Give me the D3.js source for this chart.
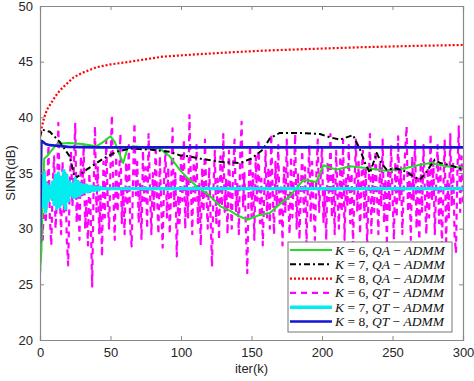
<!DOCTYPE html>
<html><head><meta charset="utf-8">
<script src="https://cdn.jsdelivr.net/npm/d3@7"></script>
<style>body{margin:0;background:#fff}svg{display:block}</style>
</head><body>
<svg id="c" width="474" height="381"></svg>
<script>
// ---- data ----
const xTicks = [0,50,100,150,200,250,300];
const yTicks = [20,25,30,35,40,45,50];
const legendLabels = [
  {K:"6", m:"QA"},{K:"7", m:"QA"},{K:"8", m:"QA"},
  {K:"6", m:"QT"},{K:"7", m:"QT"},{K:"8", m:"QT"}];

// K=6 QA-ADMM (green) [iter, SINR]
const greenQA6 = [[0,26],[1,28],[2,33],[3,36.3],[5,36.5],[8,37],[12,37.6],[20,37.7],[30,37.6],[40,37.4],[45,37.8],[50,38.3],[53,37.8],[57,36.5],[59,35.9],[62,37.2],[66,37.4],[75,37.3],[85,37.2],[92,36.5],[99,35.3],[105,34.5],[112,33.7],[120,33],[128,32],[135,31.6],[140,31.2],[147,30.8],[155,31.2],[163,31.4],[170,32.2],[177,32.9],[187,34.4],[196,34.2],[201,35.7],[210,35.3],[220,35.6],[234,35.4],[245,35.2],[258,35.4],[268,35.7],[277,35.9],[288,35.6],[298,35.5],[300,35.5]];
// K=7 QA-ADMM (black dash-dot)
const blackQA7 = [[0,38.2],[1.4,38.9],[7,38.7],[14,37.8],[21,36.5],[24.8,34.5],[29,34.9],[33,35.3],[39,35.8],[45,36.3],[54,36.9],[64,37.2],[78,37.1],[92,36.9],[99,36.6],[106,36.5],[113,36.3],[128,36.0],[142,35.9],[150,36.3],[158,37.1],[163,38.1],[170,38.6],[184,38.6],[198.6,38.5],[205.7,38.2],[212.8,38.0],[222,38.4],[227,37.1],[230.5,35.9],[234,35.0],[238.8,36.8],[242,35.9],[245.8,35.3],[253,35.4],[260,35.1],[264.6,34.7],[269.5,34.4],[274,35.1],[280,36.2],[283.7,35.9],[290.8,35.7],[298,35.4],[300,35.5]];
// K=8 QA-ADMM (red dotted)
const redQA8 = [[0,38.3],[1,39],[3,40],[5,40.7],[8,41.3],[11,41.9],[14,42.4],[18,42.9],[24,43.6],[30,44.0],[40,44.5],[50,44.75],[64,45.0],[87,45.45],[110,45.65],[135,45.84],[160,46.0],[182,46.1],[205,46.2],[229,46.3],[260,46.4],[300,46.5]];
// K=6 QT-ADMM (magenta dashed), one value per iteration 0..300
const magentaQT6 = [
26.0,31.5,29.0,35.5,30.5,33.0,37.5,31.0,28.5,34.0,36.5,30.0,32.5,39.5,33.0,29.5,36.0,31.5,35.0,29.0,
26.7,33.5,37.0,32.0,35.5,39.5,30.5,34.5,29.0,36.5,33.0,37.5,30.0,32.5,28.5,35.0,31.0,24.8,33.5,39.2,
31.5,35.5,29.5,33.0,27.5,36.0,31.0,38.0,32.5,30.0,35.5,40.2,33.5,29.0,36.5,31.5,34.0,38.5,30.5,33.5,
29.5,36.0,32.0,37.5,30.0,28.4,34.5,39.5,33.0,36.0,30.5,34.0,29.0,37.0,32.5,35.5,30.0,38.5,33.5,29.5,
35.0,31.5,37.5,33.0,29.5,36.5,32.0,28.3,34.5,37.0,31.0,35.5,29.5,33.5,39.0,32.0,35.0,27.5,33.0,30.5,
36.5,32.5,38.0,30.0,34.5,31.0,40.2,34.0,29.5,36.0,32.5,37.5,30.5,34.0,28.5,35.5,31.5,38.0,33.0,30.0,
35.5,31.0,26.6,33.5,37.0,30.5,34.5,29.0,36.5,32.0,38.5,31.5,34.5,29.5,37.0,33.0,30.0,35.5,38.0,31.5,
34.0,29.5,36.5,39.6,32.0,35.0,30.0,26.0,33.5,37.5,31.0,35.0,29.0,36.5,32.5,38.0,30.5,34.5,28.5,33.0,
37.0,31.0,35.5,30.0,38.5,33.5,29.5,36.0,32.0,37.5,30.5,34.0,28.5,35.5,31.5,38.0,33.0,29.5,36.5,31.0,
34.5,38.5,30.0,35.0,29.0,33.5,37.0,31.5,35.5,28.5,34.0,37.5,30.5,36.0,32.0,29.0,35.0,38.0,31.5,34.5,
37.4,30.5,33.5,29.0,36.0,32.5,38.5,31.0,35.0,29.5,37.0,33.0,30.0,36.5,31.5,38.0,29.0,34.5,32.0,37.5,
30.5,35.0,28.5,33.5,38.0,31.5,36.0,29.5,34.5,37.0,31.0,35.5,28.5,33.0,38.5,29.6,35.0,31.5,37.0,33.0,
29.5,36.0,32.0,38.0,30.5,34.5,28.5,35.5,31.5,37.5,33.0,29.0,36.0,31.0,38.3,32.5,35.5,29.5,34.0,37.0,
39.2,31.5,35.0,29.0,36.5,32.5,38.0,30.0,34.5,28.5,36.0,31.5,37.5,33.0,29.5,35.5,31.0,38.5,32.5,36.0,
29.5,34.0,37.5,30.5,35.5,28.5,33.0,38.0,28.4,34.5,31.0,38.5,32.0,36.0,29.5,27.8,35.0,39.2,31.5,36.5,
32.0];
// K=7 QT-ADMM (cyan)
const cyanQT7 = [[0,30.5],[1,34.5],[2,32.0],[3,35.0],[4,31.5],[5,34.0],[6,32.5],[7,33.8],[8,32.8],[9,34.2],[10,32.2],[11,34.8],[12,31.8],[13,35.0],[14,32.0],[15,34.6],[16,32.3],[17,35.2],[18,31.8],[19,34.8],[20,32.5],[21,34.2],[22,33.0],[23,34.0],[24,32.8],[25,34.5],[26,32.9],[27,34.2],[28,33.0],[29,34.0],[30,33.2],[31,33.9],[32,33.3],[33,33.9],[34,33.3],[35,33.8],[36,33.4],[37,33.8],[38,33.4],[39,33.7],[40,33.5],[41,33.7],[42,33.5],[43,33.7],[44,33.6],[300,33.6]];
// K=8 QT-ADMM (blue)
const blueQT8 = [[0,28.7],[1,37.9],[2,37.8],[4,37.6],[7,37.5],[12,37.45],[20,37.35],[40,37.3],[300,37.3]];

// ---- drawing ----
const svg = d3.select("#c");
const L=40, R=463, T=6, B=340;
const x = d3.scaleLinear().domain([0,300]).range([L,R]);
const y = d3.scaleLinear().domain([20,50]).range([B,T]);

const plot = svg.append("g");
svg.append("defs").append("clipPath").attr("id","clip").append("rect")
  .attr("x",L).attr("y",T).attr("width",R-L).attr("height",B-T);
plot.attr("clip-path","url(#clip)");

const line = d3.line().x(d=>x(d[0])).y(d=>y(d[1]));
const series = [
  {data: magentaQT6.map((v,i)=>[i,v]), color:"#ff00ff", w:2.2, dash:"6,5"},
  {data: greenQA6, color:"#22dd22", w:2, dash:null},
  {data: blackQA7, color:"#000", w:2, dash:"6,3,2,3"},
  {data: redQA8, color:"#ff0000", w:2.2, dash:"2,2"},
  {data: cyanQT7, color:"#00eeee", w:3.4, dash:null},
  {data: blueQT8, color:"#1414d4", w:2.6, dash:null}
];
series.forEach(s=>{
  plot.append("path").attr("d", line(s.data)).attr("fill","none")
    .attr("stroke", s.color).attr("stroke-width", s.w)
    .attr("stroke-dasharray", s.dash).attr("stroke-linejoin","round");
});

// axes
const axCol = "#888";
const txtCol = "#262626";
const gB = svg.append("g").attr("transform",`translate(0,${B})`)
  .call(d3.axisBottom(x).tickValues(xTicks).tickSize(-4).tickPadding(8).tickFormat(d3.format("d")));
const gT = svg.append("g").attr("transform",`translate(0,${T})`)
  .call(d3.axisTop(x).tickValues(xTicks).tickSize(-4).tickFormat(""));
const gL = svg.append("g").attr("transform",`translate(${L},0)`)
  .call(d3.axisLeft(y).tickValues(yTicks).tickSize(-4).tickPadding(7).tickFormat(d3.format("d")));
const gR = svg.append("g").attr("transform",`translate(${R},0)`)
  .call(d3.axisRight(y).tickValues(yTicks).tickSize(-4).tickFormat(""));
[gB,gT,gL,gR].forEach(g=>{
  g.selectAll(".domain").attr("stroke",axCol).attr("stroke-width",1.2);
  g.selectAll(".tick line").attr("stroke",axCol);
  g.selectAll("text").attr("fill",txtCol).style("font-family","'Liberation Sans',Arial,sans-serif").style("font-size","13px");
});

svg.append("text").attr("x",(L+R)/2).attr("y",373).attr("text-anchor","middle")
  .style("font-family","'Liberation Sans',Arial,sans-serif").style("font-size","13px").attr("fill",txtCol).text("iter(k)");
svg.append("text").attr("transform",`translate(15,${(T+B)/2}) rotate(-90)`).attr("text-anchor","middle")
  .style("font-family","'Liberation Sans',Arial,sans-serif").style("font-size","13px").attr("fill",txtCol).text("SINR(dB)");

// legend
const lg = svg.append("g");
lg.append("rect").attr("x",288).attr("y",242).attr("width",164).attr("height",90)
  .attr("fill","#fff").attr("stroke","#777").attr("stroke-width",1);
legendLabels.forEach((lab,i)=>{
  const s = [series[1],series[2],series[3],series[0],series[4],series[5]][i];
  const yy = 250 + i*14.3;
  lg.append("line").attr("x1",290).attr("x2",332).attr("y1",yy).attr("y2",yy)
    .attr("stroke",s.color).attr("stroke-width",s.w).attr("stroke-dasharray",s.dash);
  const t = lg.append("text").attr("x",335).attr("y",yy+4.5)
    .style("font-family","'Liberation Serif','Times New Roman',serif").style("font-size","13.5px").attr("fill","#111");
  t.append("tspan").style("font-style","italic").text("K");
  t.append("tspan").text(" = "+lab.K+", ");
  t.append("tspan").style("font-style","italic").text(lab.m);
  t.append("tspan").text(" − ");
  t.append("tspan").style("font-style","italic").text("ADMM");
});
</script>
</body></html>
